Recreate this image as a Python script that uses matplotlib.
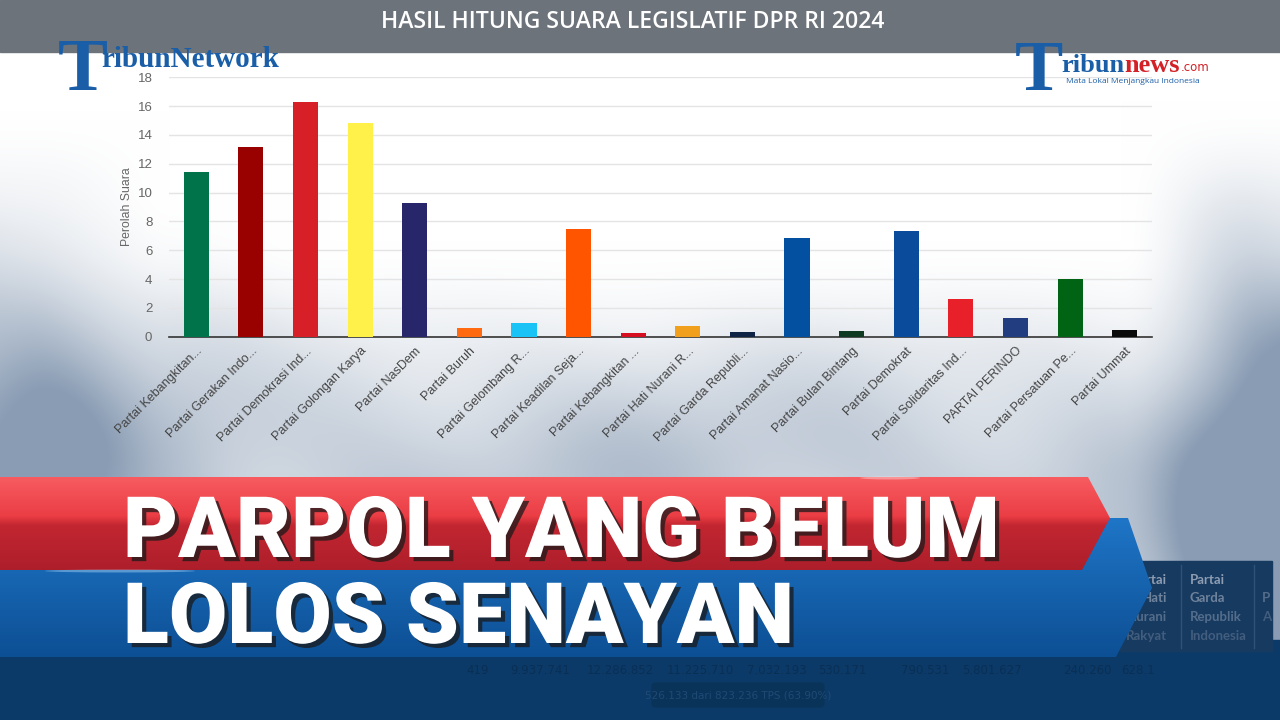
import numpy as np
import matplotlib
matplotlib.use('Agg')
from matplotlib import pyplot as plt
from matplotlib.patches import Polygon, Rectangle, FancyBboxPatch, Ellipse
import matplotlib.patheffects as pe

W, H = 1280, 720

# chart data
parties = ['Partai Kebangkitan...', 'Partai Gerakan Indo...', 'Partai Demokrasi Ind...',
           'Partai Golongan Karya', 'Partai NasDem', 'Partai Buruh', 'Partai Gelombang R...',
           'Partai Keadilan Seja...', 'Partai Kebangkitan ...', 'Partai Hati Nurani R...',
           'Partai Garda Republi...', 'Partai Amanat Nasio...', 'Partai Bulan Bintang',
           'Partai Demokrat', 'Partai Solidaritas Ind...', 'PARTAI PERINDO',
           'Partai Persatuan Pe...', 'Partai Ummat']
votes = [11.45, 13.15, 16.3, 14.85, 9.3, 0.63, 0.98, 7.44, 0.28, 0.77,
         0.35, 6.88, 0.42, 7.33, 2.6, 1.28, 4.0, 0.49]
bar_colors = ['#00734a', '#990000', '#d71f27', '#fff04a', '#27266a', '#ff6a10',
              '#19c3f5', '#ff5500', '#d50f1f', '#f0a01c', '#0f2345', '#0450a0',
              '#0f3a22', '#0a4b9c', '#e8202a', '#233e80', '#006414', '#0a0a0a']
y_ticks = [0, 2, 4, 6, 8, 10, 12, 14, 16, 18]

title = 'HASIL HITUNG SUARA LEGISLATIF DPR RI 2024'
headline = ['PARPOL YANG BELUM', 'LOLOS SENAYAN']

# faint table behind the banner
table_numbers = ['419', '9.937.741', '12.286.852', '11.225.710', '7.032.193',
                 '530.171', '790.531', '5.801.627', '240.260', '628.1']
table_num_x = [478, 540, 620, 700, 777, 842, 925, 992, 1087, 1138]
hdr_left = ['Partai', 'Hati', 'Nurani', 'Rakyat']
hdr_right = ['Partai', 'Garda', 'Republik', 'Indonesia']
hdr_next = ['', 'P', 'A', '']

fig = plt.figure(figsize=(12.8, 7.2), dpi=100)

# ---- background (cloud wash) ----
bg = fig.add_axes([0, 0, 1, 1])
bg.set_xlim(0, W)
bg.set_ylim(H, 0)
bg.axis('off')

def smooth(t):
    t = np.clip(t, 0, 1)
    return t * t * (3 - 2 * t)

yy, xx = np.mgrid[0:H, 0:W].astype(float)
w = 0.62 * smooth((yy - 240) / 240.0)
w += 0.85 * smooth((xx - 1120) / 140.0) * smooth((yy - 100) / 260.0)
w += 0.40 * smooth((170 - xx) / 140.0) * smooth((yy - 110) / 200.0)
w += 0.18 * smooth((330 - xx) / 200.0) * smooth((yy - 190) / 150.0)
tex = (0.78 + 0.13 * np.sin(xx / 97.0 + yy / 61.0)
       + 0.09 * np.sin(xx / 41.0 - yy / 53.0 + 1.3))
w = np.clip(w * tex, 0, 0.92)
cloud = np.array([0.50, 0.58, 0.68])
img = 1 - w[..., None] * (1 - cloud)
bg.imshow(img, extent=(0, W, H, 0), aspect='auto', zorder=0, interpolation='bilinear')

# title bar
bg.add_patch(Rectangle((0, 0), W, 52, color='#6c737b', zorder=2))
bg.text(633, 22, title, color='white', fontsize=16.6, fontweight='semibold',
        family='Open Sans', ha='center', va='center', zorder=3)

# ---- chart ----
x0, x1, y0, y1 = 169, 1152, 336.7, 77.3
ax = fig.add_axes([x0 / W, 1 - y0 / H, (x1 - x0) / W, (y0 - y1) / H])
ax.set_facecolor('none')
xpos = np.arange(len(parties))
ax.bar(xpos, votes, width=0.46, color=bar_colors, zorder=3)
ax.set_xlim(-0.5, len(parties) - 0.5)
ax.set_ylim(0, 18)
ax.set_yticks(y_ticks)
ax.yaxis.grid(True, color='#e4e4e4', lw=1)
ax.set_axisbelow(True)
for s in ['top', 'right', 'left']:
    ax.spines[s].set_visible(False)
ax.spines['bottom'].set_color('#333333')
ax.spines['bottom'].set_linewidth(1.2)
ax.tick_params(axis='y', length=0, pad=12, labelcolor='#666666', labelsize=9.5)
ax.tick_params(axis='x', length=0, pad=6)
ax.set_xticks(xpos)
ax.set_xticklabels(parties, rotation=45, ha='right', rotation_mode='anchor',
                   fontsize=9, color='#444444', family='Liberation Sans')
for t in ax.get_yticklabels():
    t.set_family('Liberation Sans')
ax.set_ylabel('Perolah Suara', color='#666666', fontsize=8.8, family='Liberation Sans')
ax.yaxis.set_label_coords(-(x0 - 133) / (x1 - x0), 0.5)

# ---- overlay: logos, banner, table ----
ov = fig.add_axes([0, 0, 1, 1], zorder=10)
ov.set_xlim(0, W)
ov.set_ylim(H, 0)
ov.axis('off')
ov.set_facecolor('none')
renderer = fig.canvas.get_renderer()

def right_edge(txt):
    bb = txt.get_window_extent(renderer)
    return ov.transData.inverted().transform((bb.x1, bb.y0))[0]

blue_logo = '#1a5ea8'
red_logo = '#d42127'
ov.text(58, 90, 'T', color=blue_logo, fontsize=54, fontweight='bold',
        family='Liberation Serif', va='baseline')
ov.text(101, 67, 'ribunNetwork', color=blue_logo, fontsize=21, fontweight='bold',
        family='Liberation Serif', va='baseline')

ov.text(1015, 90, 'T', color=blue_logo, fontsize=52, fontweight='bold',
        family='Liberation Serif', va='baseline')
t_ribun = ov.text(1061, 72, 'ribun', color=blue_logo, fontsize=19, fontweight='bold',
                  family='Liberation Serif', va='baseline')
t_news = ov.text(right_edge(t_ribun), 72, 'news', color=red_logo, fontsize=19,
                 fontweight='bold', family='Liberation Serif', va='baseline')
ov.text(right_edge(t_news) + 1, 71, '.com', color=red_logo, fontsize=8.5,
        family='Liberation Sans Narrow', va='baseline')
ov.text(1066, 83, 'Mata Lokal Menjangkau Indonesia', color=blue_logo, fontsize=6,
        family='Open Sans', va='baseline')

# dark lower area with faint table
ov.add_patch(Rectangle((0, 640), W, 80, color='#0b3a68', zorder=1))
ov.add_patch(Rectangle((1120, 561), 152, 90, color='#173a60', zorder=1))
for lx in [1181, 1254]:
    ov.plot([lx, lx], [565, 648], color='#2f5278', lw=1, zorder=2)
row_cols = ['#8e9db2', '#6f829b', '#546d8b', '#425d7d']
for i, (a, b, c) in enumerate(zip(hdr_left, hdr_right, hdr_next)):
    ov.text(1167, 580 + i * 18.5, a, color=row_cols[i], fontsize=9.5, fontweight='bold',
            family='Lato', ha='right', va='center', zorder=2)
    ov.text(1190, 580 + i * 18.5, b, color=row_cols[i], fontsize=9.5, fontweight='bold',
            family='Lato', ha='left', va='center', zorder=2)
    ov.text(1262, 580 + i * 18.5, c, color=row_cols[i + 1 if i < 3 else 3], fontsize=9.5,
            fontweight='bold', family='Lato', ha='left', va='center', zorder=2)
for nx, num in zip(table_num_x, table_numbers):
    ov.text(nx, 670, num, color='#0a2f55', fontsize=8.5, family='Liberation Sans Narrow',
            ha='center', va='center', zorder=2)
ov.add_patch(FancyBboxPatch((652, 683), 172, 24, boxstyle='round,pad=0,rounding_size=4',
                            color='#0a3359', zorder=2))
ov.text(738, 695, '526.133 dari 823.236 TPS (63.90%)', color='#1f4a74', fontsize=7.5,
        family='Liberation Sans Narrow', ha='center', va='center', zorder=3)

# blue ribbon
blue_poly = Polygon([(0, 518), (1128, 518), (1152, 588), (1116, 657), (0, 657)],
                    closed=True, facecolor='none', edgecolor='none', zorder=4)
ov.add_patch(blue_poly)
gy = np.linspace(0, 1, 200)[:, None]
top_b = np.array([0.12, 0.46, 0.78])
bot_b = np.array([0.05, 0.31, 0.58])
grad_b = (top_b * (1 - gy) + bot_b * gy)[:, None, :].repeat(2, axis=1)
ib = ov.imshow(grad_b, extent=(0, 1160, 657, 518), aspect='auto', zorder=4,
               interpolation='bilinear')
ib.set_clip_path(blue_poly)

# red ribbon
red_poly = Polygon([(0, 477), (1088, 477), (1110, 518), (1082, 570), (0, 570)],
                   closed=True, facecolor='none', edgecolor='none', zorder=5)
ov.add_patch(red_poly)
ry = np.linspace(0, 1, 200)
stops_y = [0.0, 0.42, 0.52, 1.0]
stops_c = np.array([[0.97, 0.36, 0.38], [0.92, 0.24, 0.27],
                    [0.76, 0.15, 0.19], [0.68, 0.12, 0.17]])
grad_r = np.stack([np.interp(ry, stops_y, stops_c[:, k]) for k in range(3)], axis=1)
grad_r = grad_r[:, None, :].repeat(2, axis=1)
ir = ov.imshow(grad_r, extent=(0, 1115, 570, 477), aspect='auto', zorder=5,
               interpolation='bilinear')
ir.set_clip_path(red_poly)

# soft light flares
ov.add_patch(Ellipse((890, 478), 60, 3, color='white', alpha=0.35, zorder=6, lw=0))
ov.add_patch(Ellipse((120, 571), 150, 3, color='#bfe4ff', alpha=0.4, zorder=6, lw=0))

shadow = [pe.SimplePatchShadow(offset=(3, -3), shadow_rgbFace='#1a1a1a', alpha=0.75),
          pe.Normal()]
for i, line in enumerate(headline):
    ov.text(123, 557 + i * 86, line, color='white', fontsize=61, fontweight='black',
            family='Roboto', va='baseline', ha='left', zorder=7, path_effects=shadow)

fig.savefig('out.png', dpi=100)
